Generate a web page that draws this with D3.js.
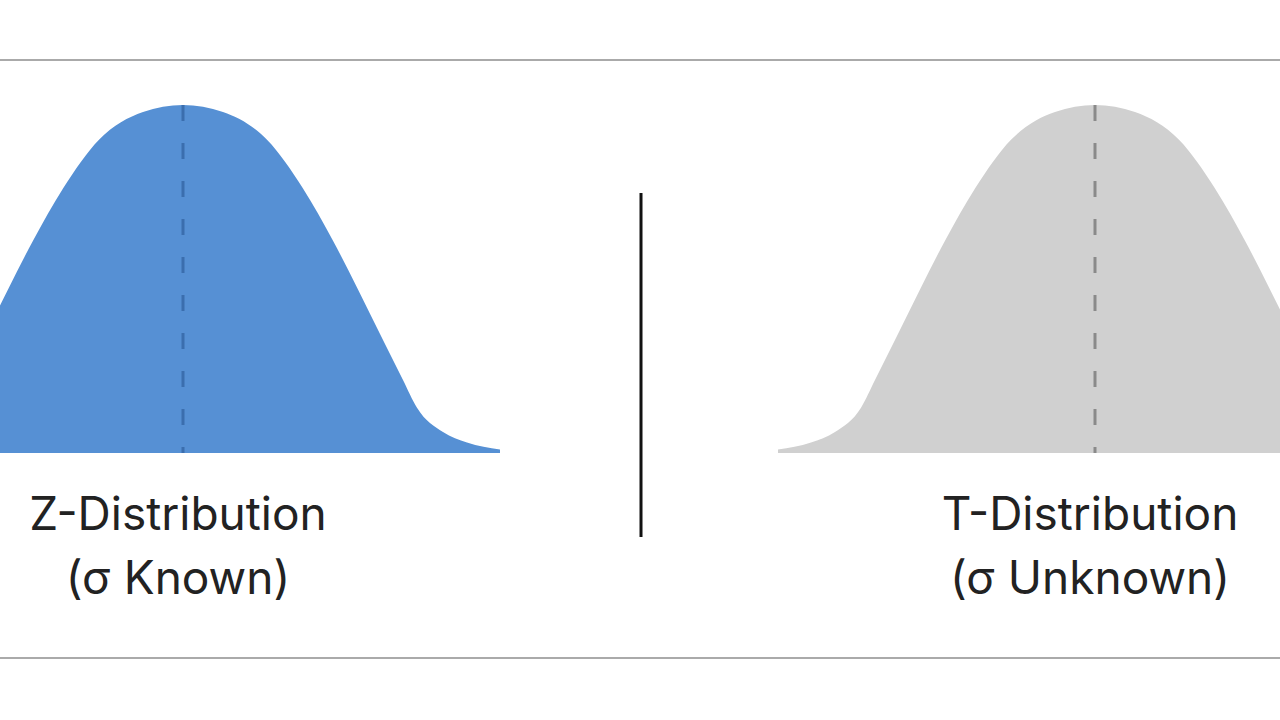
<!DOCTYPE html><html><head><meta charset="utf-8"><script src="https://cdn.jsdelivr.net/npm/d3@7"></script>
<style>body{margin:0;background:#fff}</style></head><body><svg id="c" width="1280" height="720"></svg>
<script>
const zOffsets=[-3.23,-2.84,-2.6,-2.34,-2.2,-2.0,-1.75,-1.5,-1.2,-0.84,-0.4,0,0.4,0.84,1.2,1.5,1.75,2.0,2.2,2.34,2.6,2.84,3.17];
const density=[0.01,0.03,0.06,0.13,0.21,0.325,0.47,0.61,0.76,0.90,0.98,1,0.98,0.90,0.76,0.61,0.47,0.325,0.21,0.13,0.06,0.03,0.01];
const titles=["Z-Distribution","T-Distribution"];
const subtitles=["(σ Known)","(σ Unknown)"];
const centers=[183,1095];
const fills=["#5690d4","#d0d0d0"];
const dashes=["#3b6eae","#8a8a8a"];
const svg=d3.select("#c");
const y=d3.scaleLinear().domain([0,1]).range([453,105]);
[0,1].forEach(i=>{
  const x=d3.scaleLinear().domain([-1,1]).range([centers[i]-100,centers[i]+100]);
  const pts=zOffsets.map((z,j)=>({z:i?-z:z,v:density[j]})).sort((a,b)=>a.z-b.z);
  svg.append("path").datum(pts).attr("fill",fills[i])
    .attr("d",d3.area().x(d=>x(d.z)).y0(y(0)).y1(d=>y(d.v)).curve(d3.curveMonotoneX));
  svg.append("line").attr("x1",x(0)).attr("x2",x(0)).attr("y1",y(1)).attr("y2",y(0))
    .attr("stroke",dashes[i]).attr("stroke-width",3).attr("stroke-dasharray","16,22");
  svg.append("text").attr("x",x(0)-5).attr("y",530).attr("text-anchor","middle")
    .attr("font-family","Inter, 'Open Sans', sans-serif").attr("font-size",46).attr("fill","#222").text(titles[i]);
  svg.append("text").attr("x",x(0)-5).attr("y",594).attr("text-anchor","middle")
    .attr("font-family","Inter, 'Open Sans', sans-serif").attr("font-size",46).attr("fill","#222").text(subtitles[i]);
});
svg.append("line").attr("x1",641).attr("x2",641).attr("y1",193).attr("y2",537).attr("stroke","#111").attr("stroke-width",3);
[60,658].forEach(v=>svg.append("line").attr("x1",0).attr("x2",1280).attr("y1",v).attr("y2",v).attr("stroke","#aaa").attr("stroke-width",2));
</script></body></html>
